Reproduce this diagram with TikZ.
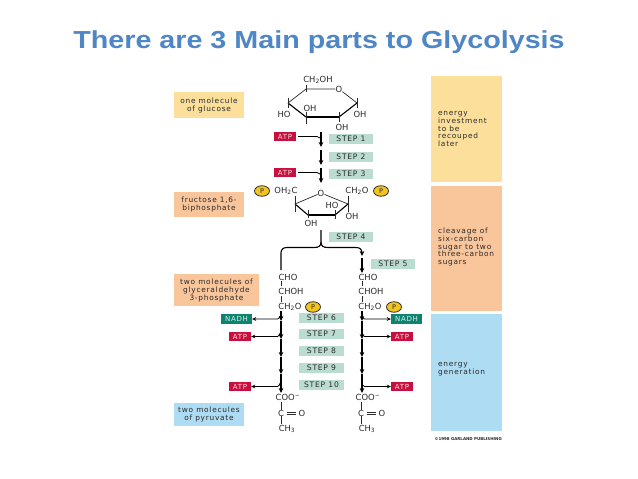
\documentclass[tikz,border=0pt]{standalone}
\usepackage{fontspec}
\usetikzlibrary{arrows.meta,shapes.geometric}
\setmainfont{DejaVu Sans}
\newfontfamily\titlefont[FakeStretch=1.167]{Liberation Sans}
\newfontfamily\spacedfont[LetterSpace=10]{DejaVu Sans}
\definecolor{tblue}{HTML}{4F86C6}
\definecolor{pyellow}{HTML}{FBDF9B}
\definecolor{porange}{HTML}{F9C59B}
\definecolor{pblue}{HTML}{ADDCF3}
\definecolor{stepcol}{HTML}{BBDCD0}
\definecolor{atpcol}{HTML}{C8103E}
\definecolor{nadhcol}{HTML}{0E8470}
\definecolor{pcol}{HTML}{F4C41E}
\definecolor{ink}{HTML}{2A2A2A}
\tikzset{
  x=1pt,y=-1pt,
  lab/.style={font=\spacedfont\fontsize{7.4}{8}\selectfont,text=ink,align=center,inner sep=0,anchor=center},
  side/.style={font=\spacedfont\fontsize{7.4}{7.9}\selectfont,text=ink,align=left,inner sep=0,anchor=west},
  stepbox/.style={fill=stepcol,minimum width=44.5pt,minimum height=10pt,inner sep=0,font=\spacedfont\fontsize{7.6}{8}\selectfont,text=ink},
  atp/.style={fill=atpcol,minimum width=22pt,minimum height=9.5pt,inner sep=0,text=white!85!atpcol,font=\spacedfont\fontsize{7}{8}\selectfont},
  nadh/.style={fill=nadhcol,minimum width=31pt,minimum height=10pt,inner sep=0,text=white!85!nadhcol,font=\spacedfont\fontsize{7}{8}\selectfont},
  chem/.style={font=\fontsize{8.4}{9}\selectfont,text=ink,inner sep=0},
  pball/.style={ellipse,draw=black!80,line width=.8pt,fill=pcol,minimum width=15pt,minimum height=10.5pt,inner sep=0,font=\fontsize{6.5}{7}\selectfont,text=ink},
  bond/.style={line width=.7pt,draw=ink},
  wedge/.style={line width=2pt,draw=black},
  flow/.style={line width=1.1pt,draw=black,-{Stealth[length=5pt,width=4.6pt]}},
  plain/.style={line width=1.1pt,draw=black},
  outflow/.style={line width=.8pt,draw=black,-{Stealth[length=4pt,width=3.8pt]},rounded corners=1.5pt},
}
\begin{document}
\begin{tikzpicture}
\useasboundingbox (0,0) rectangle (638,479);
\fill[white] (0,0) rectangle (638,479);
\node[font=\titlefont\bfseries\fontsize{24.6}{26}\selectfont,text=tblue,inner sep=0,anchor=base] (title) at (319,48.3) {There are 3 Main parts to Glycolysis};

% side panels
\fill[pyellow] (431,76) rectangle (502,182);
\fill[porange] (431,186) rectangle (502,311);
\fill[pblue] (431,314) rectangle (502,431);
\node[side] (s1) at (438,129) {energy\\investment\\to be\\recouped\\later};
\node[side] (s2) at (438,247) {cleavage of\\six-carbon\\sugar to two\\three-carbon\\sugars};
\node[side] (s3) at (438,369) {energy\\generation};
\node[font=\bfseries\fontsize{4}{5}\selectfont,text=ink,inner sep=0,anchor=east] (copy) at (502,439) {©1998 GARLAND PUBLISHING};

% left labels
\fill[pyellow] (174,92) rectangle (244,118);
\node[lab] (l1) at (209,105) {one molecule\\of glucose};
\fill[porange] (174,192) rectangle (244,217);
\node[lab] (l2) at (209,204.5) {fructose 1,6-\\biphosphate};
\fill[porange] (174,274) rectangle (259,306);
\node[lab] (l3) at (216.5,290) {two molecules of\\glyceraldehyde\\3-phosphate};
\fill[pblue] (174,403) rectangle (244,426);
\node[lab] (l4) at (209,414.5) {two molecules\\of pyruvate};

% glucose ring
\coordinate (g1) at (306,89); \coordinate (g3) at (357,103);
\coordinate (g4) at (339,117); \coordinate (g5) at (306,117); \coordinate (g6) at (288,103);
\node[chem] (gO) at (339,89) {O};
\node[chem] (gCH) at (318,80) {CH\textsubscript{2}OH};
\node[chem] (gHO) at (284,114) {HO};
\node[chem] (gOH1) at (310,108) {OH};
\node[chem] (gOH2) at (360,114) {OH};
\node[chem] (gOH3) at (342,127) {OH};
\draw[bond] (g1) -- (gO) (gO) -- (g3);
\draw[bond] (g6) -- (g1);
\draw[line width=1.1pt,draw=black] (g6) -- (g5);
\draw[line width=1.1pt,draw=black] (g4) -- (g3);
\draw[wedge] (g5) -- (g4);
\draw[bond] (306,85) -- (306,92);
\draw[bond] (288,98) -- (288,108);
\draw[bond] (357,98) -- (357,108);
\draw[bond] (306,112) -- (306,124);
\draw[bond] (339,112) -- (339,122);

% first steps
\node[atp] (a1) at (285,136.5) {ATP};
\node[atp] (a2) at (285,172.5) {ATP};
\node[stepbox] (st1) at (351,138.5) {STEP 1};
\node[stepbox] (st2) at (351,156.5) {STEP 2};
\node[stepbox] (st3) at (351,174) {STEP 3};
\coordinate (m1) at (321,132); \coordinate (m2) at (321,147);
\coordinate (m3) at (321,150); \coordinate (m4) at (321,165);
\coordinate (m5) at (321,168); \coordinate (m6) at (321,183);
\draw[flow] (m1) -- (m2);
\draw[flow] (m3) -- (m4);
\draw[flow] (m5) -- (m6);
\draw[line width=.8pt,rounded corners=2pt] (a1.east) ++(2,0) -- (319,136.5) -- (321,139);
\draw[line width=.8pt,rounded corners=2pt] (a2.east) ++(2,0) -- (319,172.5) -- (321,175);

% fructose
\node[pball] (p1) at (262,191) {P};
\node[chem] (fL) at (286,191) {OH\textsubscript{2}C};
\node[chem] (fR) at (357,191) {CH\textsubscript{2}O};
\node[pball] (p2) at (381,191) {P};
\node[chem] (fO) at (321,193) {O};
\coordinate (f1) at (295,204); \coordinate (f2) at (308,215);
\coordinate (f3) at (335,215); \coordinate (f4) at (348,204);
\node[chem] (fHO) at (332,205) {HO};
\node[chem] (fOH1) at (352,216) {OH};
\node[chem] (fOH2) at (311,223) {OH};
\draw[bond] (f1) -- (fO) (fO) -- (f4);
\draw[line width=1.1pt,draw=black] (f1) -- (f2);
\draw[line width=1.1pt,draw=black] (f3) -- (f4);
\draw[wedge] (f2) -- (f3);
\draw[bond] (295,196) -- (295,212);
\draw[bond] (348,196) -- (348,212);
\draw[bond] (308,210) -- (308,218);
\draw[bond] (335,210) -- (335,219);

% step 4 fork
\node[stepbox] (st4) at (351,237) {STEP 4};
\coordinate (fk0) at (321,230); \coordinate (fk1) at (321,242);
\coordinate (bl) at (281,270); \coordinate (br) at (362,256);
\draw[plain] (fk0) -- (fk1) .. controls (321,246) and (319,247.5) .. (314,247.5) -- (287,247.5) .. controls (283,247.5) and (281,249.5) .. (281,253) -- (bl);
\draw[flow] (fk1) .. controls (321,246) and (323,247.5) .. (328,247.5) -- (356,247.5) .. controls (360,247.5) and (362,249.5) .. (362,253) -- (br);
\node[stepbox] (st5) at (393,264) {STEP 5};
\coordinate (r0) at (362,258); \coordinate (r1) at (362,273);
\draw[flow] (r0) -- (r1);

% G3P columns
\node[chem] (lc1) at (288,277) {CHO};
\node[chem] (lc2) at (291,291) {CHOH};
\node[chem] (lc3) at (290,307) {CH\textsubscript{2}O};
\node[pball] (p3) at (313,307) {P};
\node[chem] (rc1) at (368,277) {CHO};
\node[chem] (rc2) at (371,291) {CHOH};
\node[chem] (rc3) at (370,307) {CH\textsubscript{2}O};
\node[pball] (p4) at (394,307) {P};
\draw[bond] (281,281) -- (281,286) (281,296) -- (281,302);
\draw[bond] (362,281) -- (362,286) (362,296) -- (362,302);

% lower steps
\node[stepbox] (st6) at (321.5,318) {STEP 6};
\node[stepbox] (st7) at (321.5,334) {STEP 7};
\node[stepbox] (st8) at (321.5,351) {STEP 8};
\node[stepbox] (st9) at (321.5,368) {STEP 9};
\node[stepbox] (st10) at (321.5,385) {STEP 10};
\node[nadh] (nl) at (236.5,319) {NADH};
\node[atp] (al1) at (240,336.5) {ATP};
\node[atp] (al2) at (240,386.5) {ATP};
\node[nadh] (nr) at (406.5,319) {NADH};
\node[atp] (ar1) at (402,336.5) {ATP};
\node[atp] (ar2) at (402,386.5) {ATP};

\foreach \xx/\sd in {281/l,362/r}{
  \coordinate (\sd0) at (\xx,311);
  \coordinate (\sd1) at (\xx,321);
  \coordinate (\sd2) at (\xx,339);
  \coordinate (\sd3) at (\xx,357);
  \coordinate (\sd4) at (\xx,374);
  \coordinate (\sd5) at (\xx,393);
  \draw[flow] (\sd0) -- (\sd1);
  \draw[flow] (\sd1) -- (\sd2);
  \draw[flow] (\sd2) -- (\sd3);
  \draw[flow] (\sd3) -- (\sd4);
  \draw[flow] (\sd4) -- (\sd5);
}
\draw[outflow] (280,316) -- (279,319) -- (nl.east);
\draw[outflow] (280,333) -- (279,336.5) -- (al1.east);
\draw[outflow] (280,383) -- (279,386.5) -- (al2.east);
\draw[outflow] (362,316) -- (363,319) -- (nr.west);
\draw[outflow] (362,333) -- (363,336.5) -- (ar1.west);
\draw[outflow] (362,383) -- (363,386.5) -- (ar2.west);

% pyruvate
\node[chem] (lp1) at (288,397) {COO\textsuperscript{−}};
\node[chem,anchor=center] (lp2) at (281,413) {C};
\node[chem] (lp3) at (302,413) {O};
\node[chem] (lp4) at (287,429) {CH\textsubscript{3}};
\node[chem] (rp1) at (368,397) {COO\textsuperscript{−}};
\node[chem] (rp2) at (361,413) {C};
\node[chem] (rp3) at (382,413) {O};
\node[chem] (rp4) at (367,429) {CH\textsubscript{3}};
\draw[bond] (281,402) -- (lp2.north) (lp2.south) -- (281,424);
\draw[bond] (361,402) -- (rp2.north) (rp2.south) -- (361,424);
\draw[bond] ([xshift=3pt,yshift=1pt]lp2.east) -- ([xshift=-2pt,yshift=1pt]lp3.west) ([xshift=3pt,yshift=-1pt]lp2.east) -- ([xshift=-2pt,yshift=-1pt]lp3.west);
\draw[bond] ([xshift=3pt,yshift=1pt]rp2.east) -- ([xshift=-2pt,yshift=1pt]rp3.west) ([xshift=3pt,yshift=-1pt]rp2.east) -- ([xshift=-2pt,yshift=-1pt]rp3.west);
\end{tikzpicture}
\end{document}
